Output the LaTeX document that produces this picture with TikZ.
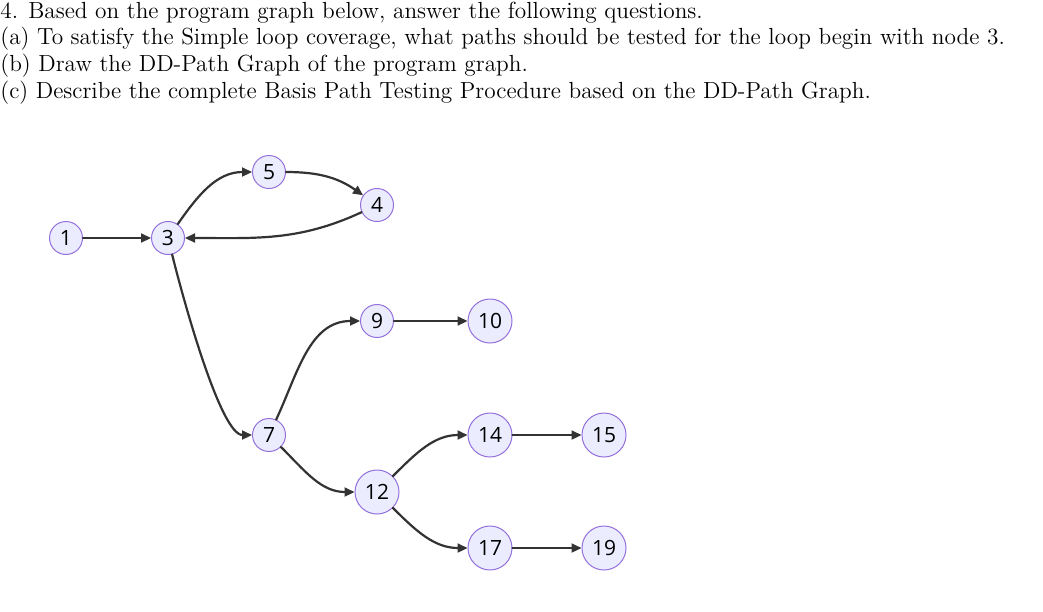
\documentclass[tikz,border=0pt]{standalone}
\usepackage{fontspec}
\newfontfamily\nodefont{Open Sans}
\usetikzlibrary{arrows.meta}
\definecolor{nodefill}{HTML}{ECECFF}
\definecolor{nodeline}{HTML}{9370DB}
\definecolor{edgecol}{HTML}{333333}
\begin{document}
\begin{tikzpicture}[x=0.5pt, y=-0.5pt, line join=round, line cap=round,
		vtx/.style={circle, draw=nodeline, fill=nodefill, line width=0.5pt, inner sep=0pt, minimum size=16.5pt, font=\nodefont\fontsize{10.5}{11}\selectfont},
		bigvtx/.style={vtx, minimum size=22pt},
		edge/.style={draw=edgecol, line width=1.1pt, -{Triangle[length=5pt, width=4.5pt]}}]
	\useasboundingbox (0,0) rectangle (1043,611);
	% question text
	\node[anchor=north west, align=left, inner sep=0pt, font=\fontsize{11.65}{13.3}\selectfont] (qtext) at (0,1.5) {%
		4. Based on the program graph below, answer the following questions.\\
		(a) To satisfy the Simple loop coverage, what paths should be tested for the loop begin with node 3.\\
		(b) Draw the DD-Path Graph of the program graph.\\
		(c) Describe the complete Basis Path Testing Procedure based on the DD-Path Graph.};
	% program graph
	\node[vtx] (n1) at (66,238) {1};
	\node[vtx] (n3) at (168,238) {3};
	\node[vtx] (n5) at (269,172) {5};
	\node[vtx] (n4) at (377,205) {4};
	\node[vtx] (n9) at (377,321) {9};
	\node[bigvtx] (n10) at (490,321) {10};
	\node[vtx] (n7) at (269,435) {7};
	\node[bigvtx] (n12) at (377,492) {12};
	\node[bigvtx] (n14) at (490,435) {14};
	\node[bigvtx] (n15) at (604,435) {15};
	\node[bigvtx] (n17) at (490,548) {17};
	\node[bigvtx] (n19) at (604,548) {19};
	
	\draw[edge] (n1) -- (n3);
	\draw[edge] (n3) to[out=55, in=180] (n5);
	\draw[edge] (n5) to[out=0, in=145] (n4);
	\draw[edge] (n4) to[out=205, in=0] (n3);
	\draw[edge] (n3) to[out=-76, in=180, out looseness=0.7, in looseness=0.4] (n7);
	\draw[edge] (n7) to[out=65, in=180] (n9);
	\draw[edge] (n9) -- (n10);
	\draw[edge] (n7) to[out=-45, in=180] (n12);
	\draw[edge] (n12) to[out=45, in=180] (n14);
	\draw[edge] (n12) to[out=-45, in=180] (n17);
	\draw[edge] (n14) -- (n15);
	\draw[edge] (n17) -- (n19);
\end{tikzpicture}
\end{document}
